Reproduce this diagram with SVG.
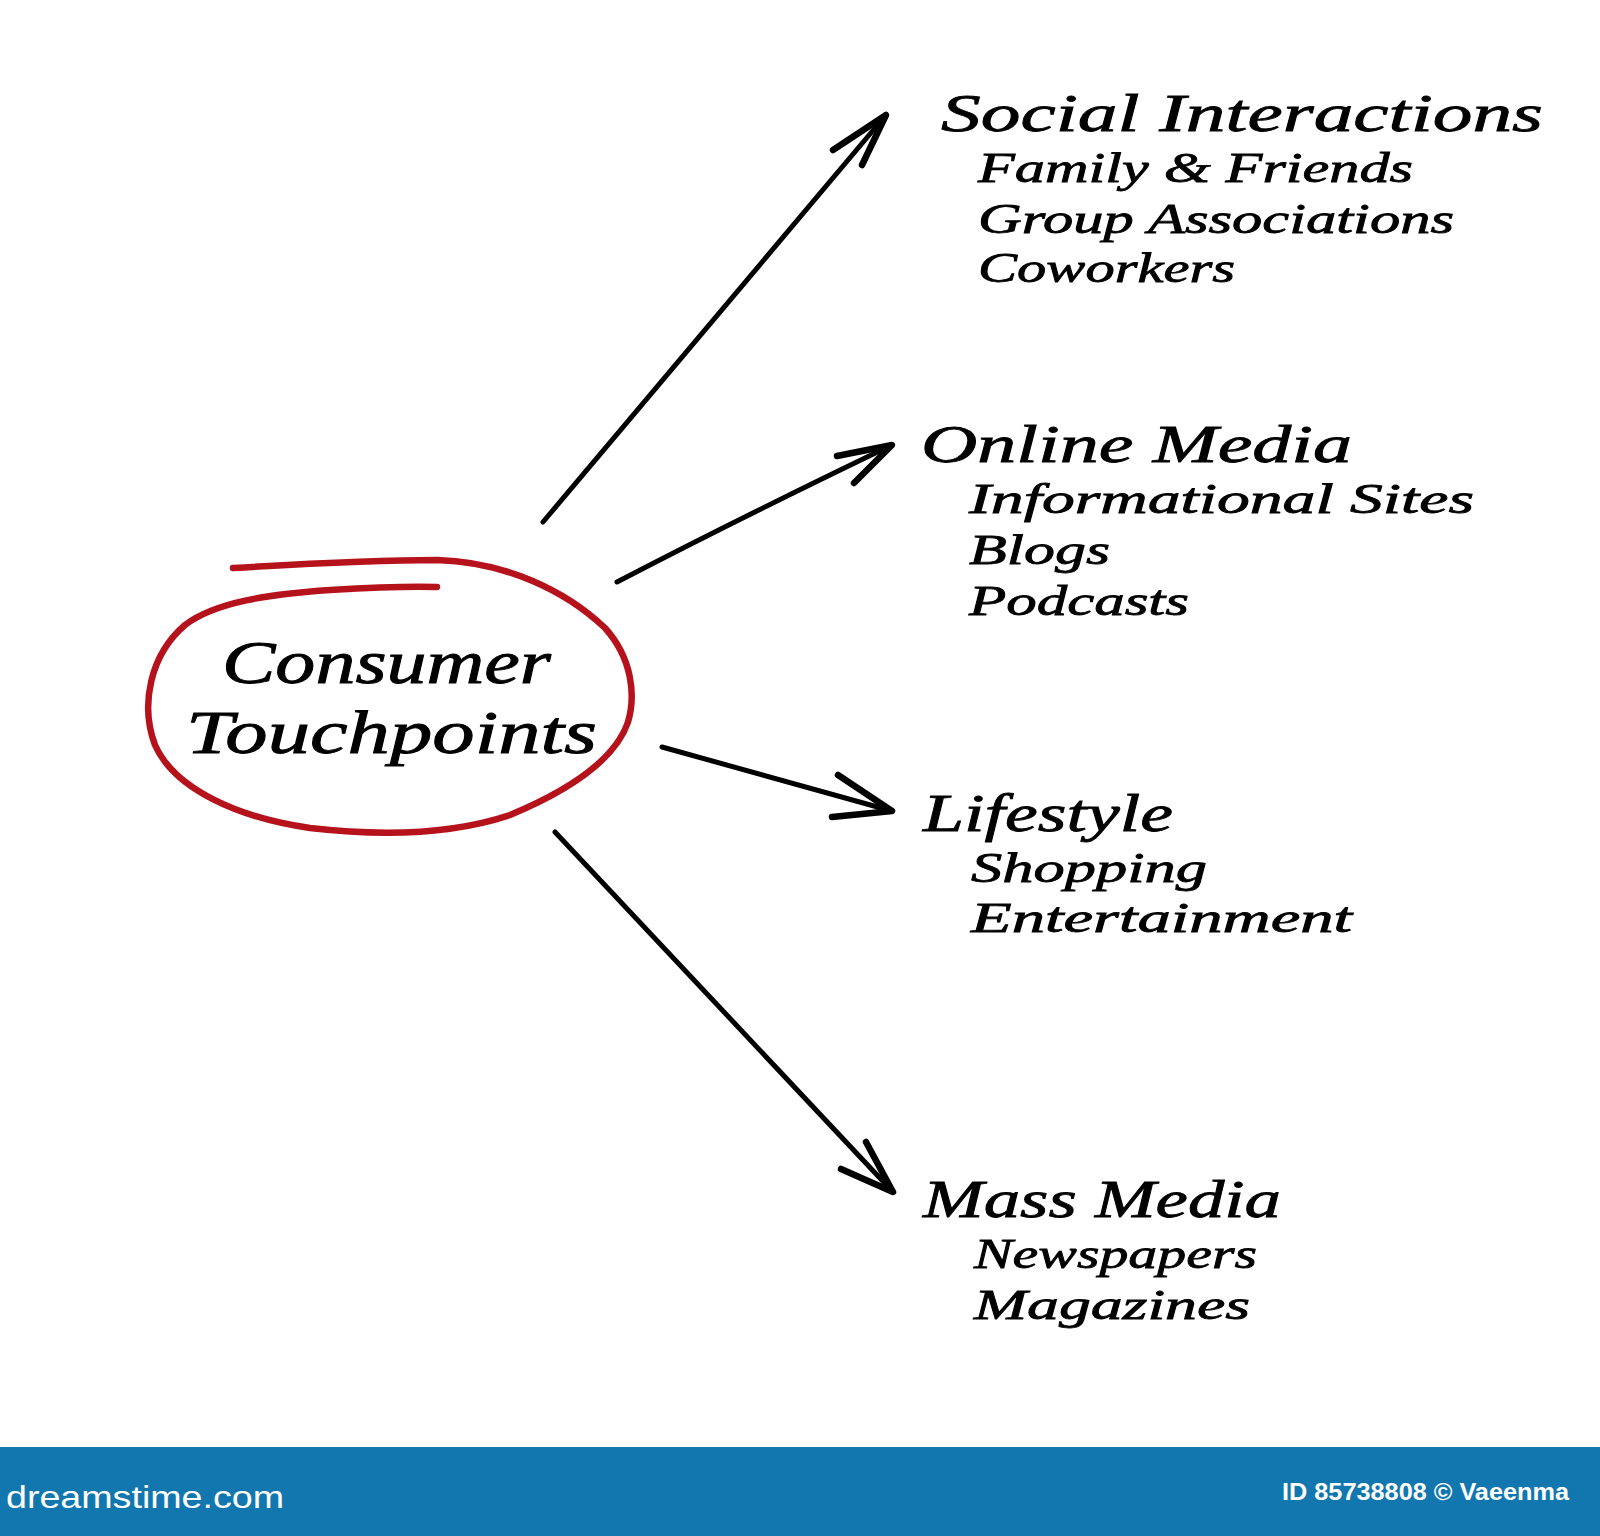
<svg xmlns="http://www.w3.org/2000/svg" width="1600" height="1536" viewBox="0 0 1600 1536">
<style>
.hd{font-family:"Liberation Serif","DejaVu Serif",serif;font-style:italic;font-size:53px;fill:#000;stroke:#000;stroke-width:0.8}
.sub{font-family:"Liberation Serif","DejaVu Serif",serif;font-style:italic;font-size:43px;fill:#000;stroke:#000;stroke-width:0.8}
.ctr{font-family:"Liberation Serif","DejaVu Serif",serif;font-style:italic;font-size:62px;fill:#000;stroke:#000;stroke-width:0.9}
.ln{fill:none;stroke:#000;stroke-width:5;stroke-linecap:round;stroke-linejoin:round}
.hdw{fill:none;stroke:#000;stroke-width:6.5;stroke-linecap:round;stroke-linejoin:round}
.ring{fill:none;stroke:#b5121b;stroke-width:6.5;stroke-linecap:round;stroke-linejoin:round}
.ft{font-family:"Liberation Sans","DejaVu Sans",sans-serif;fill:#fff}
</style>
<rect width="1600" height="1536" fill="#fff"/>
<g id="center">
<path class="ring" d="M233,568 C300,564 380,560 437,560 C505,562 565,590 605,628 C632,658 636,695 628,722 C615,760 570,790 510,815 C450,835 380,836 310,828 C240,818 175,790 155,745 C140,705 150,655 185,625 C215,602 270,594 330,590 C380,587 410,586 437,587"/>
<text class="ctr" x="222" y="683" textLength="329" lengthAdjust="spacingAndGlyphs">Consumer</text>
<text class="ctr" x="186" y="753" textLength="411" lengthAdjust="spacingAndGlyphs">Touchpoints</text>
</g>
<g id="connectors">
<path class="ln" d="M543,522 L886,115"/>
<path class="hdw" d="M833,150 L886,115 L862,165"/>
<path class="ln" d="M617,582 Q740,518 892,445"/>
<path class="hdw" d="M837,456 L892,445 L854,483"/>
<path class="ln" d="M662,747 L892,811"/>
<path class="hdw" d="M838,775 L892,811 L832,817"/>
<path class="ln" d="M555,832 L893,1192"/>
<path class="hdw" d="M866,1142 L893,1192 L841,1169"/>
</g>
<g id="social">
<text class="hd" x="941" y="131" textLength="602" lengthAdjust="spacingAndGlyphs">Social Interactions</text>
<text class="sub" x="978" y="182" textLength="435" lengthAdjust="spacingAndGlyphs">Family &amp; Friends</text>
<text class="sub" x="978" y="233" textLength="476" lengthAdjust="spacingAndGlyphs">Group Associations</text>
<text class="sub" x="978" y="282" textLength="257" lengthAdjust="spacingAndGlyphs">Coworkers</text>
</g>
<g id="online">
<text class="hd" x="921" y="462" textLength="431" lengthAdjust="spacingAndGlyphs">Online Media</text>
<text class="sub" x="969" y="513" textLength="505" lengthAdjust="spacingAndGlyphs">Informational Sites</text>
<text class="sub" x="969" y="564" textLength="141" lengthAdjust="spacingAndGlyphs">Blogs</text>
<text class="sub" x="969" y="615" textLength="220" lengthAdjust="spacingAndGlyphs">Podcasts</text>
</g>
<g id="lifestyle">
<text class="hd" x="923" y="831" textLength="250" lengthAdjust="spacingAndGlyphs">Lifestyle</text>
<text class="sub" x="971" y="882" textLength="236" lengthAdjust="spacingAndGlyphs">Shopping</text>
<text class="sub" x="971" y="932" textLength="381" lengthAdjust="spacingAndGlyphs">Entertainment</text>
</g>
<g id="mass">
<text class="hd" x="923" y="1217" textLength="358" lengthAdjust="spacingAndGlyphs">Mass Media</text>
<text class="sub" x="974" y="1268" textLength="283" lengthAdjust="spacingAndGlyphs">Newspapers</text>
<text class="sub" x="974" y="1319" textLength="276" lengthAdjust="spacingAndGlyphs">Magazines</text>
</g>
<g id="banner">
<rect x="0" y="1447" width="1600" height="89" fill="#1277af"/>
<text class="ft" x="6" y="1508" font-size="32" textLength="278" lengthAdjust="spacingAndGlyphs">dreamstime.com</text>
<text class="ft" x="1282" y="1500" font-size="24" font-weight="bold" textLength="287" lengthAdjust="spacingAndGlyphs">ID 85738808 © Vaeenma</text>
</g>
</svg>
